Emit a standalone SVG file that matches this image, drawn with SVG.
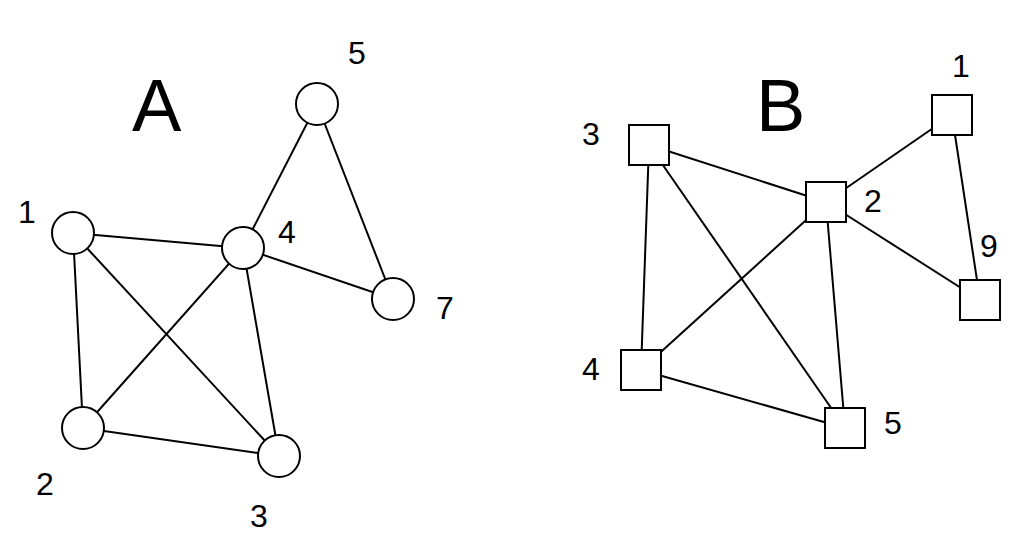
<svg xmlns="http://www.w3.org/2000/svg" width="1024" height="542" viewBox="0 0 1024 542">
<style>
.n{fill:#fff;stroke:#000;stroke-width:2}
.e line{stroke:#000;stroke-width:2}
text{font-family:"Liberation Sans",Arial,sans-serif;font-size:32px;fill:#000}
.big{font-size:74px}
</style>
<rect width="1024" height="542" fill="#fff"/>
<g class="e" id="connectors">
<line x1="73" y1="233" x2="243" y2="248"/>
<line x1="73" y1="233" x2="83" y2="428"/>
<line x1="73" y1="233" x2="279" y2="456"/>
<line x1="83" y1="428" x2="243" y2="248"/>
<line x1="83" y1="428" x2="279" y2="456"/>
<line x1="243" y1="248" x2="279" y2="456"/>
<line x1="243" y1="248" x2="317" y2="104"/>
<line x1="243" y1="248" x2="393" y2="299"/>
<line x1="317" y1="104" x2="393" y2="299"/>
<line x1="649" y1="145" x2="826" y2="202"/>
<line x1="826" y1="202" x2="952" y2="115"/>
<line x1="952" y1="115" x2="980" y2="300"/>
<line x1="826" y1="202" x2="980" y2="300"/>
<line x1="649" y1="145" x2="641" y2="370"/>
<line x1="649" y1="145" x2="845" y2="428"/>
<line x1="826" y1="202" x2="641" y2="370"/>
<line x1="826" y1="202" x2="845" y2="428"/>
<line x1="641" y1="370" x2="845" y2="428"/>
</g>
<text class="big" x="132" y="131">A</text>
<text class="big" x="756" y="131">B</text>
<g id="A1"><circle class="n" cx="73" cy="233" r="21"/><text x="18" y="223">1</text></g>
<g id="A2"><circle class="n" cx="83" cy="428" r="21"/><text x="36" y="495">2</text></g>
<g id="A3"><circle class="n" cx="279" cy="456" r="21"/><text x="250" y="527">3</text></g>
<g id="A4"><circle class="n" cx="243" cy="248" r="21"/><text x="278" y="243">4</text></g>
<g id="A5"><circle class="n" cx="317" cy="104" r="21"/><text x="348" y="64">5</text></g>
<g id="A7"><circle class="n" cx="393" cy="299" r="21"/><text x="436" y="319">7</text></g>
<g id="B1"><rect class="n" x="932" y="95" width="40" height="40"/><text x="952" y="77">1</text></g>
<g id="B3"><rect class="n" x="629" y="125" width="40" height="40"/><text x="582" y="145">3</text></g>
<g id="B2"><rect class="n" x="806" y="182" width="40" height="40"/><text x="864" y="212">2</text></g>
<g id="B9"><rect class="n" x="960" y="280" width="40" height="40"/><text x="980" y="257">9</text></g>
<g id="B4"><rect class="n" x="621" y="350" width="40" height="40"/><text x="582" y="380">4</text></g>
<g id="B5"><rect class="n" x="825" y="408" width="40" height="40"/><text x="884" y="434">5</text></g>
</svg>
